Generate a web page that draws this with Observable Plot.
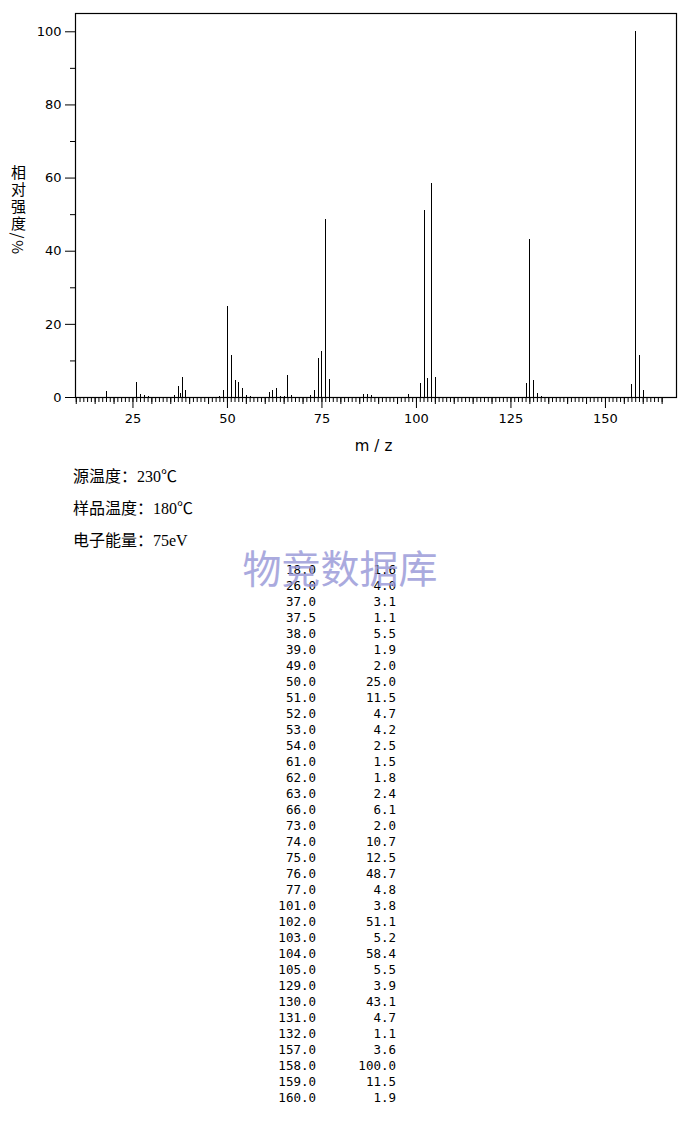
<!DOCTYPE html>
<html>
<head>
<meta charset="utf-8">
<script src="https://cdn.jsdelivr.net/npm/d3@7"></script>
<script src="https://cdn.jsdelivr.net/npm/@observablehq/plot@0.6"></script>
<style>
  html, body { margin: 0; padding: 0; background: #fff; }
  #wrap { position: relative; width: 680px; height: 1134px; overflow: hidden; background: #fff; }
  #chart { position: absolute; left: 0; top: 0; }
  .info { position: absolute; left: 73px; font-family: "Liberation Serif", "Noto Sans CJK SC", serif; font-size: 16px; line-height: 20px; color: #000; white-space: nowrap; }
  .row { position: absolute; left: 0; width: 680px; height: 16px; line-height: 16px; font-family: "DejaVu Sans Mono", monospace; font-size: 12.5px; color: #000; }
  .row span { position: absolute; text-align: right; width: 70px; }
  .c1 { left: 246px; }
  .c2 { left: 326px; }
  #wm { position: absolute; left: 0; width: 680px; top: 542px; text-align: center; font-family: "Noto Sans CJK SC", sans-serif; font-size: 39px; line-height: 48px; color: rgb(150,150,215); opacity: 0.8; white-space: nowrap; }
</style>
</head>
<body>
<div id="wrap">
  <div id="chart"></div>
</div>
<script>
// Peaks listed in the table (m/z, relative intensity %)
const mzValues = [18.0, 26.0, 37.0, 37.5, 38.0, 39.0, 49.0, 50.0, 51.0, 52.0, 53.0, 54.0, 61.0, 62.0, 63.0, 66.0, 73.0, 74.0, 75.0, 76.0, 77.0, 101.0, 102.0, 103.0, 104.0, 105.0, 129.0, 130.0, 131.0, 132.0, 157.0, 158.0, 159.0, 160.0];
const intensities = [1.6, 4.0, 3.1, 1.1, 5.5, 1.9, 2.0, 25.0, 11.5, 4.7, 4.2, 2.5, 1.5, 1.8, 2.4, 6.1, 2.0, 10.7, 12.5, 48.7, 4.8, 3.8, 51.1, 5.2, 58.4, 5.5, 3.9, 43.1, 4.7, 1.1, 3.6, 100.0, 11.5, 1.9];
// Small peaks (< 1 %) visible in the plot only (estimated)
const smallMz = [27, 28, 29, 36, 48, 55, 56, 64, 65, 67, 72, 86, 87, 88, 98, 133];
const smallIntensities = [0.9, 0.5, 0.3, 0.5, 0.4, 0.6, 0.4, 0.4, 0.4, 0.6, 0.5, 0.8, 0.9, 0.5, 0.9, 0.4];
// Axis ticks
const xLabelTicks = [25, 50, 75, 100, 125, 150];
const xMidTicks = [10, 15, 20, 30, 35, 40, 45, 55, 60, 65, 70, 80, 85, 90, 95, 105, 110, 115, 120, 130, 135, 140, 145, 155, 160, 165];
const xMinorTicks = d3.range(10, 166);
const yLabelTicks = [0, 20, 40, 60, 80, 100];
const yMinorTicks = [10, 30, 50, 70, 90];
const yTitle = "相对强度/%";
const xTitle = "m/z";
const infoLines = ["源温度：230℃", "样品温度：180℃", "电子能量：75eV"];
const watermark = "物竞数据库";

const peaks = mzValues.map((m, i) => ({mz: m, v: intensities[i]}))
  .concat(smallMz.map((m, i) => ({mz: m, v: smallIntensities[i]})));

const chart = Plot.plot({
  width: 680,
  height: 460,
  marginLeft: 75,
  marginRight: 4,
  marginTop: 13,
  marginBottom: 63,
  x: {domain: [9.8, 168.8], label: null},
  y: {domain: [0, 105], label: null},
  style: {fontFamily: "DejaVu Sans", fontSize: "13px", color: "black", background: "white", overflow: "visible"},
  marks: [
    Plot.ruleX(peaks, {x: "mz", y1: 0, y2: "v", stroke: "black", strokeWidth: 1, shapeRendering: "crispEdges"}),
    Plot.frame({stroke: "black", strokeWidth: 1.2}),
    Plot.axisX(xMinorTicks, {tickSize: 5, tickFormat: () => "", label: null}),
    Plot.axisX(xMidTicks, {tickSize: 7, tickFormat: () => "", label: null}),
    Plot.axisX(xLabelTicks, {tickSize: 11, tickPadding: 5, label: null, fontSize: 13}),
    Plot.axisY(yMinorTicks, {tickSize: 5, tickFormat: () => "", label: null}),
    Plot.axisY(yLabelTicks, {tickSize: 10, tickPadding: 4, label: null, fontSize: 13}),
    Plot.text([xTitle], {text: d => d, frameAnchor: "bottom", lineAnchor: "middle", textAnchor: "middle", dy: 49, fontSize: 15, fontFamily: "DejaVu Sans"}),
    Plot.text([yTitle], {text: d => d, frameAnchor: "left", lineAnchor: "middle", textAnchor: "middle", dx: -57, fontSize: 15, fontFamily: "Noto Sans CJK SC"})
  ]
});

// vertical writing of y title; spacing on the x title
chart.querySelectorAll("text").forEach(t => {
  if (t.textContent === yTitle) {
    t.removeAttribute("dy");
    t.setAttribute("style", "writing-mode: vertical-rl; letter-spacing: 2px;");
  } else if (t.textContent === xTitle) {
    t.setAttribute("style", "letter-spacing: 5px;");
  }
});

document.getElementById("chart").appendChild(chart);

const wrap = document.getElementById("wrap");
infoLines.forEach((s, i) => {
  const d = document.createElement("div");
  d.className = "info";
  d.style.top = (467 + 32 * i) + "px";
  d.textContent = s;
  wrap.appendChild(d);
});

mzValues.forEach((m, i) => {
  const r = document.createElement("div");
  r.className = "row";
  r.style.top = (562 + 16 * i) + "px";
  const a = document.createElement("span");
  a.className = "c1";
  a.textContent = m.toFixed(1);
  const b = document.createElement("span");
  b.className = "c2";
  b.textContent = intensities[i].toFixed(1);
  r.appendChild(a); r.appendChild(b);
  wrap.appendChild(r);
});

const wm = document.createElement("div");
wm.id = "wm";
wm.textContent = watermark;
wrap.appendChild(wm);
</script>
</body>
</html>
